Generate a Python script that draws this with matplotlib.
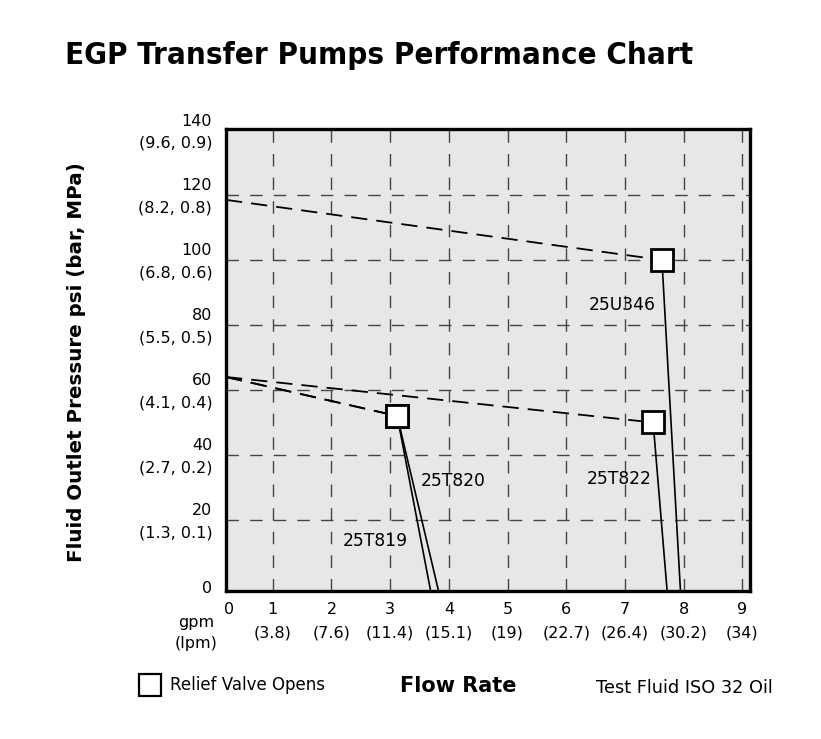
import numpy as np
import matplotlib
matplotlib.use("Agg")
from matplotlib import pyplot as plt
from matplotlib import font_manager as fm
from matplotlib.transforms import ScaledTranslation

# tick values and labels
gpm_ticks = [1, 2, 3, 4, 5, 6, 7, 8, 9]
lpm_labels = ['(3.8)', '(7.6)', '(11.4)', '(15.1)', '(19)', '(22.7)', '(26.4)', '(30.2)', '(34)']
psi_ticks = [20, 40, 60, 80, 100, 120, 140]
bar_mpa_labels = ['(1.3, 0.1)', '(2.7, 0.2)', '(4.1, 0.4)', '(5.5, 0.5)',
                  '(6.8, 0.6)', '(8.2, 0.8)', '(9.6, 0.9)']

# pump curves
models = ['25U346', '25T822', '25T819', '25T820']
start_psi = [118.5, 64, 64, 64]          # pressure at left edge of chart
relief_gpm = [7.63, 7.48, 3.12, 3.12]    # relief valve opens
relief_psi = [100, 50, 52, 52]
free_gpm = [7.94, 7.71, 3.67, 3.80]      # flow at 0 psi

# label positions for the model names
label_gpm = [6.96, 6.9, 2.75, 4.07]
label_psi = [86.2, 32.6, 13.5, 32.0]

XMIN, XMAX = 0.204, 9.13
YMIN, YMAX = -1.85, 140.3

plt.rcParams['font.family'] = ['DejaVu Sans']

fig = plt.figure(figsize=(8.21, 7.39), dpi=100)
ax = fig.add_axes([0.2753, 0.2003, 0.6382, 0.6251])
ax.set_facecolor('#e6e7e8')
ax.set_xlim(XMIN, XMAX)
ax.set_ylim(YMIN, YMAX)

# dashed grid
for g in gpm_ticks:
  ax.axvline(g, color='#444444', lw=1.0, dashes=(9, 8), zorder=1)
for p in psi_ticks[:-1]:
  ax.axhline(p, color='#444444', lw=1.0, dashes=(9, 8), zorder=1)

for i in range(len(models)):
  # dashed part before relief valve opens
  ax.plot([XMIN, relief_gpm[i]], [start_psi[i], relief_psi[i]],
          color='black', lw=1.3, dashes=(9, 5), zorder=3)
  # solid part down to 0 psi, extended to the bottom spine
  slope = (free_gpm[i] - relief_gpm[i]) / (0 - relief_psi[i])
  x_end = free_gpm[i] + slope * (YMIN - 0)
  ax.plot([relief_gpm[i], x_end], [relief_psi[i], YMIN],
          color='black', lw=1.2, zorder=3)
  ax.text(label_gpm[i], label_psi[i], models[i], fontsize=12.3,
          ha='center', va='center', zorder=4)

ax.plot(relief_gpm, relief_psi, 's', ms=16, mfc='white', mec='black',
        mew=2.0, ls='none', zorder=5)

# ticks
ax.set_xticks([0.26] + gpm_ticks)
ax.set_xticklabels(['0'] + [str(g) + '\n' + l for g, l in zip(gpm_ticks, lpm_labels)],
                   linespacing=1.7, fontsize=11.5)
ax.set_yticks([YMIN + 0.3] + psi_ticks)
ax.set_yticklabels(['0'] + [str(p) + '\n' + l for p, l in zip(psi_ticks, bar_mpa_labels)],
                   linespacing=1.6, fontsize=11.5)
ax.tick_params(axis='both', length=0)
ax.tick_params(axis='x', pad=8)
ax.tick_params(axis='y', pad=10)
up = ScaledTranslation(0, 0.03, fig.dpi_scale_trans)
for lab in ax.get_yticklabels():
  lab.set_transform(lab.get_transform() + up)
for s in ax.spines.values():
  s.set_linewidth(2.4)

fig.text(196 / 821, 1 - 633 / 739, 'gpm\n(lpm)', ha='center', va='center',
         fontsize=11.5, linespacing=1.5)

ax.set_ylabel('Fluid Outlet Pressure psi (bar, MPa)', fontsize=14.3,
              fontweight='bold')
ax.yaxis.set_label_coords(-0.268, 0.495)

# title, condensed bold if some font has it
tprops = fm.FontProperties(family='Liberation Sans', weight='bold')
for f in fm.fontManager.ttflist:
  nm = f.name.lower()
  if ('narrow' in nm or 'condensed' in nm or f.stretch == 'condensed') and f.weight in (700, 'bold'):
    tprops = fm.FontProperties(fname=f.fname)
    break
title = fig.text(65 / 821, 1 - 55 / 739, 'EGP Transfer Pumps Performance Chart',
                 fontproperties=tprops, fontsize=26, ha='left', va='center')
# size the title so it spans about the same width as the original
r = fig.canvas.get_renderer()
w = title.get_window_extent(r).width
title.set_fontsize(min(28, 26 * 627 / w))

# bottom legend and captions
fig.patches.append(plt.Rectangle((139 / 821, 1 - 696 / 739), 22 / 821, 22 / 739,
                                 transform=fig.transFigure, fill=False,
                                 lw=1.6, ec='black'))
fig.text(170 / 821, 1 - 685 / 739, 'Relief Valve Opens', fontsize=12,
         ha='left', va='center')
fig.text(458 / 821, 1 - 686 / 739, 'Flow Rate', fontsize=15,
         fontweight='bold', ha='center', va='center')
fig.text(773 / 821, 1 - 688 / 739, 'Test Fluid ISO 32 Oil', fontsize=12.8,
         ha='right', va='center')

fig.savefig('out.png', dpi=100)
